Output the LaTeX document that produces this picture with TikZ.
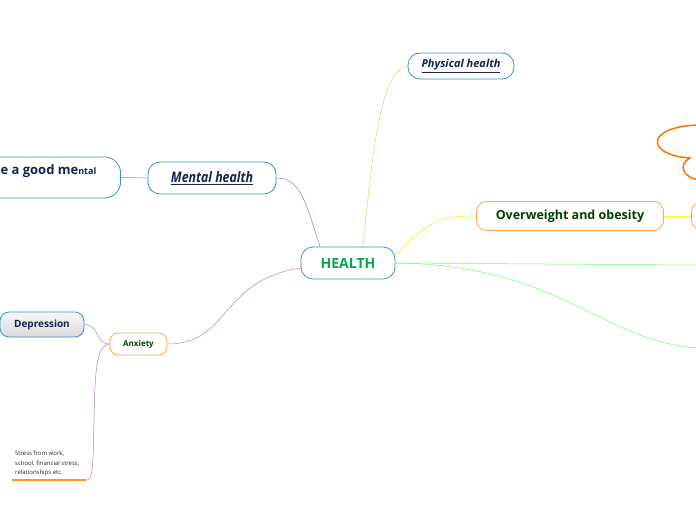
\documentclass[tikz,border=0pt]{standalone}
\usepackage{fontspec}
\setmainfont{Open Sans}
\definecolor{bd}{HTML}{3A8FD0}
\definecolor{nv}{HTML}{14244F}
\begin{document}
\begin{tikzpicture}[x=1pt,y=-1pt,
  bluebox/.style={draw=bd, line width=0.8pt, rounded corners=12pt, fill=white, text=nv},
  orbox/.style={draw=orange!70, line width=0.8pt, rounded corners=10pt, fill=white, text=green!25!black, font=\bfseries},
  lk/.style={line width=0.5pt}]
\clip (0,0) rectangle (696,520);
\fill[white] (0,0) rectangle (696,520);
% nodes
\node[bluebox, minimum width=94pt, minimum height=32pt, text={rgb,255:red,0;green,166;blue,80}, font=\bfseries\fontsize{14}{16}\selectfont] (h) at (348,263) {HEALTH};
\node[bluebox, minimum width=106pt, minimum height=26pt, font=\bfseries\itshape\fontsize{11}{13}\selectfont] (ph) at (461,66) {\underline{Physical health}};
\node[bluebox, minimum width=128pt, minimum height=32pt, font=\bfseries\itshape\fontsize{14.5}{17}\selectfont] (mh) at (212,178) {\underline{\addfontfeature{FakeStretch=0.85}Mental health}};
\node[bluebox, rounded corners=16pt, minimum width=180pt, minimum height=41pt, anchor=east] (gm) at (121,177.5) {};
\node[anchor=west, text=nv, font=\bfseries\fontsize{13}{15}\selectfont] (gmt) at (-3,171) {e a good me{\fontsize{9}{11}\selectfont ntal}};
\node[orbox, minimum width=187pt, minimum height=29pt, font=\bfseries\fontsize{12.5}{14}\selectfont] (ow) at (570,216) {Overweight and obesity};
\node[orbox, minimum width=40pt, minimum height=28pt, anchor=west] (c) at (691,216) {};
\node[orbox, rounded corners=8pt, minimum width=57pt, minimum height=22pt, font=\bfseries\fontsize{8}{10}\selectfont] (ax) at (138.5,344) {Anxiety};
\node[draw=bd, line width=0.8pt, rounded corners=9pt, top color=gray!5, bottom color=gray!30, text=nv, minimum width=84pt, minimum height=25pt, font=\bfseries\fontsize{10}{12}\selectfont] (dp) at (42,324.5) {Depression};
\node[anchor=north west, align=left, inner sep=0pt, font=\fontsize{6}{9.5}\selectfont, text=black!85] (st) at (15,451) {Stress from work,\\school, financial stress,\\relationships etc.};
\coordinate (stl) at (12,480);
\coordinate (str) at (86,480);
\draw[orange!85, line width=1.2pt] (stl) -- (str);
\coordinate (e1) at (696,265);
\coordinate (e2) at (696,348);
% cloud
\draw[orange!90!red, line width=1.5pt] (700,125) .. controls (645,126) and (645,155) .. (690,158) .. controls (678,164) and (682,178) .. (700,180);
% connectors
\draw[lk, orange!50] (h.north) ++(15,0) .. controls (375,120) and (385,70) .. (ph.west);
\draw[lk, blue!50] (h.north) ++(-28,0) .. controls (305,200) and (300,178) .. (mh.east);
\draw[lk, blue!50] (mh.west) -- (gm.east);
\draw[lk, yellow!90!orange] (h.east) ++(0,-8) .. controls (430,220) and (440,216) .. (ow.west);
\draw[lk, yellow!80] (ow.east) -- (c.west);
\draw[lk, green!60] (h.east) -- (e1);
\draw[lk, green!60] (h.east) .. controls (560,265) and (600,340) .. (e2);
\draw[lk, violet!50] (h.west) ++(0,5) .. controls (220,280) and (230,344) .. (ax.east);
\draw[lk, violet!50] (ax.west) .. controls (95,344) and (100,325) .. (dp.east);
\draw[lk, violet!50] (ax.west) .. controls (95,344) and (95,380) .. (94,420) .. controls (93,475) and (92,480) .. (str);
\end{tikzpicture}
\end{document}
